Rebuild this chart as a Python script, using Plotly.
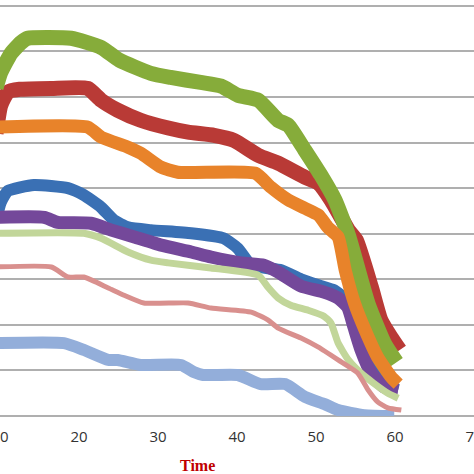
import plotly.graph_objects as go

# Data (x = Time, y in gridline units of 10)
green_x = [9.5, 10.1, 11.4, 12.7, 13.5, 19.0, 22.8, 25.1, 29.1, 31.6, 35.4, 38.0, 40.1, 42.7, 45.2, 46.5, 48.6, 50.6, 52.4, 54.1, 56.6, 58.7, 60.2]
green_y = [72.0, 75.4, 79.6, 82.0, 82.9, 82.9, 80.9, 78.1, 75.2, 74.3, 73.2, 72.4, 70.4, 69.3, 64.9, 63.8, 58.3, 52.9, 47.4, 39.7, 24.6, 15.8, 11.8]

red_x = [9.5, 10.1, 11.0, 12.5, 16.5, 21.1, 22.8, 24.9, 27.8, 31.3, 33.8, 37.1, 39.6, 42.7, 45.2, 48.6, 50.3, 51.9, 54.1, 55.1, 57.0, 58.2, 59.5, 60.6]
red_y = [62.0, 68.2, 71.1, 71.7, 71.9, 71.9, 69.3, 67.1, 64.9, 63.2, 62.3, 61.6, 60.5, 57.2, 55.5, 52.4, 51.1, 47.4, 40.8, 38.6, 28.3, 21.1, 17.3, 14.5]

orange_x = [9.5, 21.1, 22.8, 26.2, 27.8, 30.4, 32.5, 42.3, 44.3, 46.5, 48.6, 50.3, 51.5, 52.8, 53.7, 54.9, 56.2, 57.8, 59.5, 60.4]
orange_y = [63.4, 63.4, 61.2, 59.0, 57.7, 54.6, 53.5, 53.3, 50.2, 47.4, 45.6, 44.1, 41.4, 39.3, 32.0, 24.6, 18.9, 12.9, 8.6, 7.0]

blue_x = [9.5, 10.1, 11.0, 14.3, 18.6, 20.6, 22.8, 24.4, 26.2, 29.1, 34.2, 38.3, 40.1, 41.8, 45.6, 48.1, 50.3, 52.3, 53.8, 55.7, 58.7, 60.4]
blue_y = [43.0, 46.9, 49.4, 50.7, 50.0, 48.5, 45.8, 43.0, 41.4, 40.8, 40.1, 39.0, 36.8, 33.1, 32.0, 30.0, 28.7, 27.6, 25.4, 15.6, 6.8, 5.7]

purple_x = [9.5, 15.6, 17.3, 21.5, 24.1, 27.0, 30.4, 34.2, 36.7, 40.5, 43.4, 45.2, 48.1, 51.0, 52.8, 54.0, 54.8, 55.7, 57.0, 58.6, 60.4]
purple_y = [43.6, 43.6, 42.5, 42.3, 40.8, 39.3, 37.5, 36.0, 34.9, 33.6, 33.1, 31.6, 28.5, 27.2, 25.9, 23.9, 19.5, 14.5, 9.4, 6.4, 5.7]

lgreen_x = [9.5, 20.6, 22.8, 26.2, 29.1, 31.3, 36.7, 42.7, 43.9, 45.2, 46.8, 49.0, 51.0, 51.9, 52.8, 54.1, 55.7, 57.3, 59.1, 60.4]
lgreen_y = [40.1, 40.1, 39.0, 36.0, 34.2, 33.6, 32.5, 30.9, 28.3, 25.9, 24.3, 23.2, 21.9, 20.4, 16.0, 12.3, 9.4, 7.2, 5.0, 3.9]

pink_x = [9.5, 16.5, 18.6, 20.6, 23.7, 25.7, 28.2, 33.8, 36.7, 41.8, 43.9, 45.2, 48.1, 50.3, 52.8, 55.3, 56.6, 57.8, 59.1, 60.8]
pink_y = [32.7, 32.7, 30.5, 30.5, 28.1, 26.5, 24.8, 24.8, 23.7, 22.8, 21.1, 19.3, 17.1, 15.1, 12.3, 9.4, 5.7, 3.1, 1.8, 1.3]

lblue_x = [9.5, 18.1, 20.6, 23.7, 24.9, 27.8, 32.9, 34.6, 35.7, 40.1, 43.0, 46.1, 48.6, 51.1, 52.8, 56.1, 59.9]
lblue_y = [16.0, 16.0, 14.5, 12.3, 12.3, 11.2, 11.2, 9.6, 9.0, 9.0, 7.0, 7.0, 4.2, 2.6, 1.3, 0.2, 0.0]

x_ticks = [10, 20, 30, 40, 50, 60, 70]
x_title = "Time"

series = [
    (blue_x, blue_y, "#3A70B4", 12),
    (red_x, red_y, "#B93A36", 15),
    (green_x, green_y, "#86AC3A", 15),
    (purple_x, purple_y, "#74489A", 13),
    (orange_x, orange_y, "#E8832A", 13),
    (lblue_x, lblue_y, "#93AEDA", 12),
    (lgreen_x, lgreen_y, "#C2D69A", 7),
    (pink_x, pink_y, "#D9908E", 5),
]

fig = go.Figure()
for xs, ys, col, w in series:
    fig.add_trace(go.Scatter(x=xs, y=ys, mode="lines",
                             line=dict(color=col, width=w, shape="spline", smoothing=0.5),
                             hoverinfo="skip"))

fig.update_layout(
    width=474, height=474,
    margin=dict(l=0, r=0, t=0, b=58, autoexpand=False),
    paper_bgcolor="white", plot_bgcolor="white",
    showlegend=False,
    xaxis=dict(range=[10, 70], tickvals=x_ticks, ticktext=[str(v) for v in x_ticks],
               showgrid=False, zeroline=False, showline=False, ticks="",
               ticklabeloverflow="allow", automargin=False, ticklabelstandoff=10,
               tickfont=dict(family="Open Sans", size=15, color="#333333")),
    yaxis=dict(range=[0, 91.3], dtick=10, tick0=0, showticklabels=False,
               automargin=False,
               showgrid=True, gridcolor="#AFAFAF", gridwidth=1.5,
               zeroline=True, zerolinecolor="#AFAFAF", zerolinewidth=1.5,
               showline=False, ticks=""),
    annotations=[dict(text="<b>" + x_title + "</b>", xref="paper", yref="paper",
                      x=0.416, y=-0.118, xanchor="center", yanchor="middle",
                      showarrow=False,
                      font=dict(family="Liberation Serif", size=16, color="#C00000"))],
)

fig.write_html("out.html")
